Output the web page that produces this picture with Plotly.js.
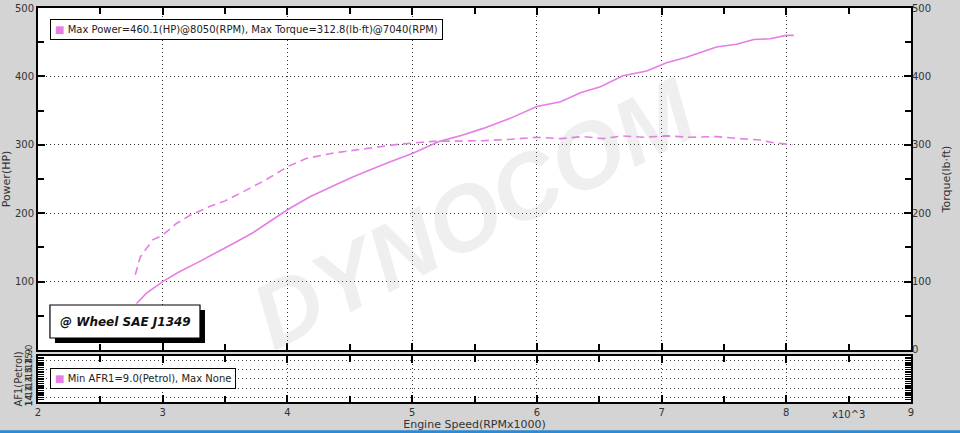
<!DOCTYPE html>
<html>
<head>
<meta charset="utf-8">
<script src="https://cdn.plot.ly/plotly-3.0.1.min.js"></script>
<style>html,body{margin:0;padding:0;background:#d4d4d4;}#chart{width:960px;height:433px;}</style>
</head>
<body>
<div id="chart"></div>
<script>
// Power (HP) vs engine speed (RPM x1000)
const rpmPower = [2.79, 2.87, 3.0, 3.13, 3.27, 3.42, 3.57, 3.72, 3.86, 4.0, 4.18, 4.34, 4.5, 4.66, 4.82, 5.01, 5.22, 5.40, 5.57, 5.79, 6.0, 6.19, 6.35, 6.51, 6.69, 6.88, 7.04, 7.20, 7.44, 7.60, 7.74, 7.87, 8.0, 8.06];
const powerHP = [68, 83, 100, 114, 127, 141, 156, 171, 188, 205, 224, 238, 251, 263, 275, 288, 305, 314, 324, 339, 356, 363, 376, 385, 401, 408, 420, 428, 443, 447, 454, 455, 460, 460];
// Torque (lb-ft) vs engine speed
const rpmTorque = [2.78, 2.82, 2.92, 3.0, 3.11, 3.22, 3.38, 3.5, 3.62, 3.83, 4.0, 4.15, 4.37, 4.64, 4.90, 5.17, 5.30, 5.57, 5.79, 6.0, 6.19, 6.37, 6.53, 6.69, 6.85, 7.04, 7.23, 7.44, 7.63, 7.79, 7.90, 8.0, 8.05];
const torqueLbFt = [110, 136, 161, 168, 185, 197, 210, 218, 229, 249, 268, 280, 288, 295, 301, 305, 305, 306, 308, 311, 309, 312, 309, 313, 311, 313, 311, 312, 309, 307, 303, 301, 300];
// Tick labels
const xTicks = [2, 3, 4, 5, 6, 7, 8, 9];
const leftYTicks = [100, 200, 300, 400, 500];
const rightYTicks = [0, 100, 200, 300, 400, 500];
const afrTicks = [14, 14.1, 14.3, 14.5, 14.7, 14.9, 15];
const afrTickText = ['14', '14.1', '14.3', '14.5', '14.7', '14.9', '15.0'];
// Texts
const legendMain = 'Max Power=460.1(HP)@8050(RPM), Max Torque=312.8(lb·ft)@7040(RPM)';
const legendAfr = 'Min AFR1=9.0(Petrol), Max None';
const badge = '@ Wheel SAE J1349';

const lineColor = '#e57ee5';
const FONT = 'DejaVu Sans, Verdana, sans-serif';
const axisFont = {family: FONT, size: 10, color: '#333'};
const GRID_DASH = '1px,3px';

const traces = [
  {x: rpmPower, y: powerHP, xaxis: 'x', yaxis: 'y', mode: 'lines', line: {color: lineColor, width: 1.6}, hoverinfo: 'skip'},
  {x: rpmTorque, y: torqueLbFt, xaxis: 'x', yaxis: 'y3', mode: 'lines', line: {color: lineColor, width: 1.6, dash: '8px,5px'}, hoverinfo: 'skip'}
];

const baseX = {
  range: [2, 9], showline: true, linecolor: '#000', linewidth: 2, mirror: 'ticks',
  ticks: 'inside', ticklen: 7, tickwidth: 2, tickcolor: '#000',
  tickvals: xTicks, showgrid: true, gridcolor: '#333', griddash: GRID_DASH, gridwidth: 1,
  minor: {dtick: 0.5, tick0: 2, ticks: 'inside', ticklen: 6, tickwidth: 2, tickcolor: '#000', showgrid: false},
  zeroline: false, fixedrange: true
};

const layout = {
  width: 960, height: 433,
  margin: {l: 38, r: 49, t: 8, b: 31},
  paper_bgcolor: '#d4d4d4', plot_bgcolor: '#ffffff',
  showlegend: false,
  font: axisFont,
  xaxis: Object.assign({}, baseX, {anchor: 'y', showticklabels: false}),
  xaxis2: Object.assign({}, baseX, {anchor: 'y2', matches: 'x', showticklabels: true, tickfont: axisFont,
    title: {text: 'Engine Speed(RPMx1000)', font: {family: FONT, size: 11, color: '#333'}, standoff: 0}}),
  yaxis: {
    domain: [0.132, 1], range: [0, 500], anchor: 'x',
    showline: true, linecolor: '#000', linewidth: 2, mirror: 'ticks',
    ticks: 'inside', ticklen: 7, tickwidth: 2, tickcolor: '#000',
    tickvals: leftYTicks, tickfont: axisFont,
    showgrid: true, gridcolor: '#333', griddash: GRID_DASH, gridwidth: 1,
    minor: {dtick: 50, ticks: 'inside', ticklen: 6, tickwidth: 2, tickcolor: '#000', showgrid: false},
    zeroline: false, fixedrange: true,
    title: {text: 'Power(HP)', font: {family: FONT, size: 11, color: '#333'}, standoff: 2}
  },
  yaxis3: {
    overlaying: 'y', side: 'right', anchor: 'x', range: [0, 500],
    showline: false, ticks: '', showgrid: false, zeroline: false,
    tickvals: rightYTicks, tickfont: axisFont, fixedrange: true,
    title: {text: 'Torque(lb·ft)', font: {family: FONT, size: 11, color: '#333'}, standoff: 12}
  },
  yaxis2: {
    domain: [0, 0.117], range: [14, 15], anchor: 'x2',
    showline: true, linecolor: '#000', linewidth: 2, mirror: 'ticks',
    ticks: 'inside', ticklen: 6, tickwidth: 1.5, tickcolor: '#000',
    tickvals: afrTicks, ticktext: afrTickText, tickangle: -90,
    tickfont: {family: FONT, size: 9, color: '#333'},
    showgrid: true, gridcolor: '#444', griddash: GRID_DASH, gridwidth: 1,
    minor: {dtick: 0.05, tick0: 14, ticks: 'inside', ticklen: 6, tickwidth: 1.5, tickcolor: '#000', showgrid: false},
    zeroline: false, fixedrange: true,
    title: {text: 'AF1(Petrol)', font: {family: FONT, size: 10, color: '#333'}, standoff: 0}
  },
  yaxis4: {
    overlaying: 'y2', side: 'right', anchor: 'x2', range: [14, 15],
    showline: false, ticks: '', showticklabels: false, showgrid: false, zeroline: false, fixedrange: true,
    title: {text: 'None(N/A)', font: {family: FONT, size: 11, color: '#333'}, standoff: 26}
  },
  shapes: [
    // badge shadow and box
    {type: 'rect', xref: 'x', yref: 'y', x0: 2.136, x1: 3.339, y0: 10.2, y1: 58.5, fillcolor: '#000', line: {width: 0}},
    {type: 'rect', xref: 'x', yref: 'y', x0: 2.096, x1: 3.299, y0: 17.5, y1: 65.8, fillcolor: '#fff', line: {color: '#000', width: 1.2}},
    // bottom blue stripe
    {type: 'rect', xref: 'paper', yref: 'paper', x0: -0.05, x1: 1.06, y0: -0.0795, y1: -0.0715, fillcolor: '#2b8ad6', line: {width: 0}, layer: 'above'}
  ],
  annotations: [
    {text: 'DYNOCOM', xref: 'x', yref: 'y', x: 5.5, y: 200, showarrow: false, textangle: -27,
     font: {family: 'Liberation Sans, Arial, sans-serif', size: 92, weight: 'bold', style: 'italic', color: 'rgba(175,175,175,0.2)'}},
    {text: '<span style="color:' + lineColor + '">■</span> ' + legendMain, xref: 'x', yref: 'y', x: 2.096, y: 484,
     xanchor: 'left', yanchor: 'top', showarrow: false, bgcolor: '#fff', bordercolor: '#000', borderwidth: 1, borderpad: 4,
     font: {family: FONT, size: 10, color: '#222'}},
    {text: '<b><i>' + badge + '</i></b>', xref: 'x', yref: 'y', x: 2.7, y: 41.6, showarrow: false,
     font: {family: FONT, size: 12, color: '#111'}},
    {text: '<span style="color:' + lineColor + '">■</span> ' + legendAfr, xref: 'x2', yref: 'y2', x: 2.096, y: 14.5,
     xanchor: 'left', yanchor: 'middle', showarrow: false, bgcolor: '#fff', bordercolor: '#000', borderwidth: 1, borderpad: 4,
     font: {family: FONT, size: 10, color: '#222'}},
    {text: 'x10^3', xref: 'x2', yref: 'paper', x: 8.5, y: -0.012, yanchor: 'top', showarrow: false,
     font: {family: FONT, size: 10, color: '#333'}}
  ]
};

Plotly.newPlot('chart', traces, layout, {staticPlot: true, displayModeBar: false});
</script>
</body>
</html>
